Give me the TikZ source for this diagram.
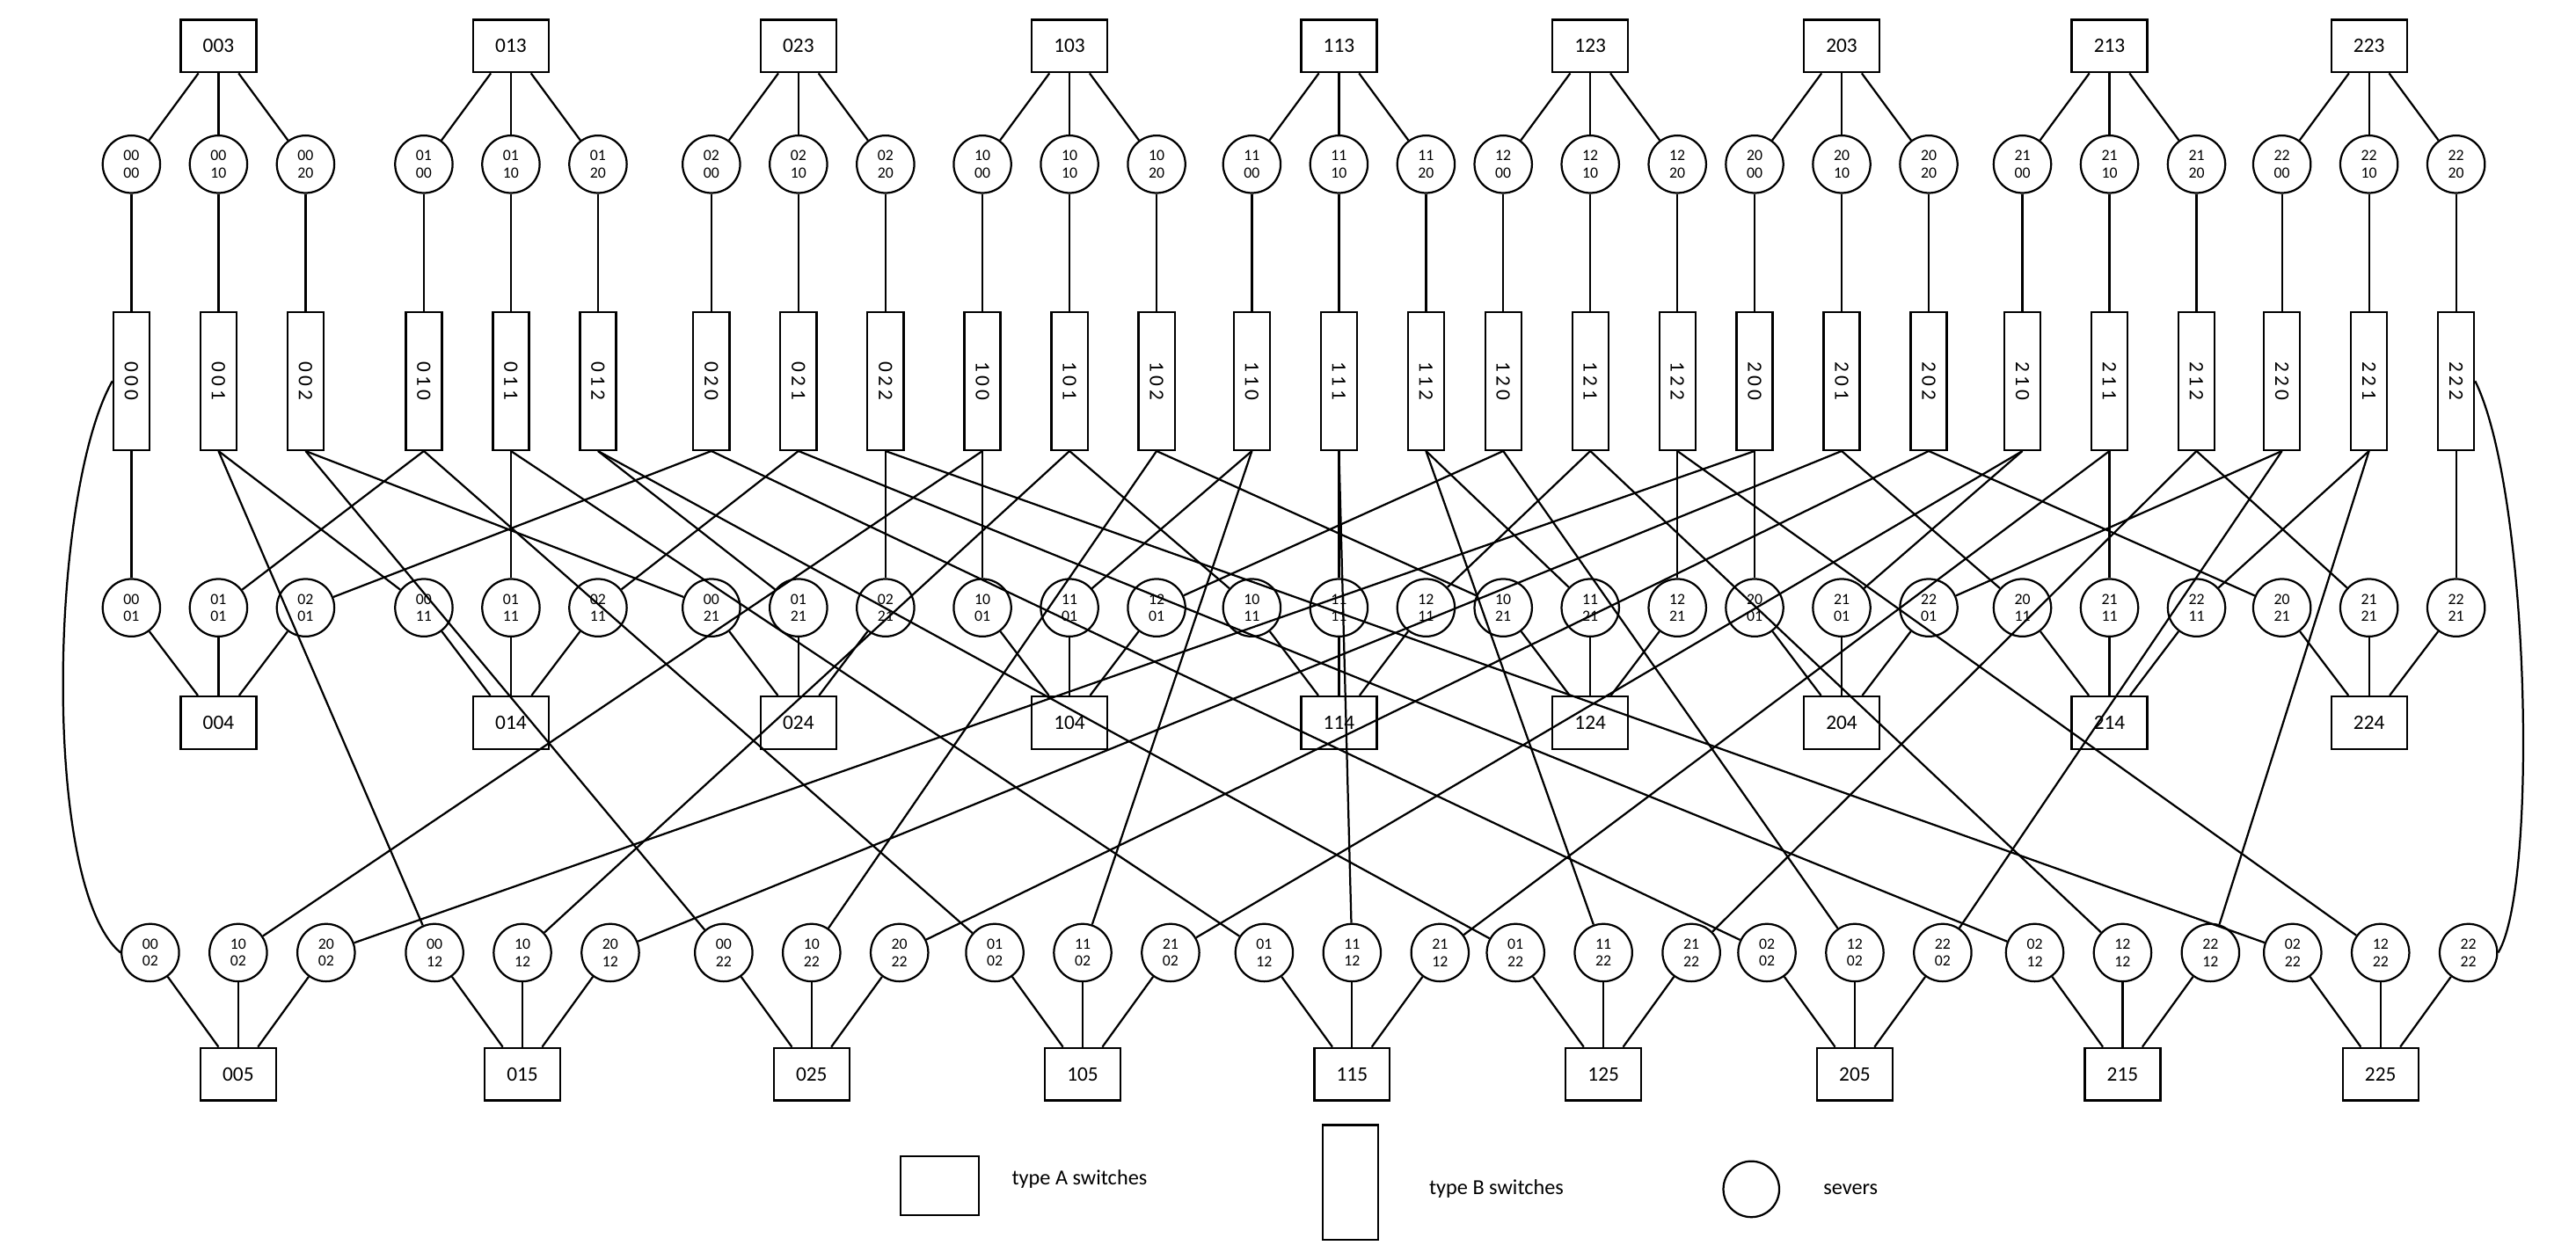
\documentclass[tikz,border=0pt]{standalone}
\usepackage{fontspec}
\setmainfont{Carlito}
\begin{document}
\begin{tikzpicture}[x=1pt,y=-1pt,line width=1.2pt,
 swA/.style={draw,rectangle,minimum width=46,minimum height=32,inner sep=0pt,font=\fontsize{12.5}{13}\selectfont},
 swB/.style={draw,rectangle,minimum width=22,minimum height=84,inner sep=0pt,font=\fontsize{12.5}{13}\selectfont},
 srv/.style={draw,circle,minimum size=35,inner sep=0pt,align=center,font=\fontsize{9.5}{10.5}\selectfont}]
\useasboundingbox (0,0) rectangle (1568,766.6);
\def\GX{{133,311,486,651,815,968,1121,1284,1442}}
\def\BX{{145,318,494,659,823,976,1129,1292,1449}}
\foreach \a in {0,1,2}{\foreach \b in {0,1,2}{
 \pgfmathtruncatemacro\g{3*\a+\b}
 \pgfmathsetmacro\X{\GX[\g]}
 \pgfmathsetmacro\Y{\BX[\g]}
 \node[swA] (A\a\b3) at (\X,28) {\a\b3};
 \node[swA] (A\a\b4) at (\X,440) {\a\b4};
 \node[swA] (A\a\b5) at (\Y,654) {\a\b5};
 \foreach \c in {0,1,2}{
   \pgfmathsetmacro\x{\X+(\c-1)*53}
   \pgfmathsetmacro\z{\Y+(\c-1)*53.5}
   \node[srv] (S\a\b\c0) at (\x,100) {\a\b\\\c0};
   \node[swB] (B\a\b\c) at (\x,232) {\rotatebox{-90}{\a\,\b\,\c}};
   \node[srv] (S\a\c\b1) at (\x,370) {\a\c\\\b1};
   \node[srv] (S\c\a\b2) at (\z,580) {\c\a\\\b2};
 }
}}
\foreach \a in {0,1,2}{\foreach \b in {0,1,2}{\foreach \c in {0,1,2}{
 \draw (A\a\b3) -- (S\a\b\c0);
 \draw (S\a\b\c0) -- (B\a\b\c.north);
 \draw (B\a\b\c.south) -- (S\a\b\c1);
 \draw (A\a\b4) -- (S\a\c\b1);
 \draw (A\a\b5) -- (S\c\a\b2);
}}}
\foreach \a/\b/\c in {0/0/1,0/0/2,0/1/0,0/1/1,0/1/2,0/2/0,0/2/1,0/2/2,1/0/0,1/0/1,1/0/2,1/1/0,1/1/1,1/1/2,1/2/0,1/2/1,1/2/2,2/0/0,2/0/1,2/0/2,2/1/0,2/1/1,2/1/2,2/2/0,2/2/1}
 \draw (B\a\b\c.south) -- (S\a\b\c2);
\draw (B000.west) .. controls (30,300) and (25,540) .. (S0002.west);
\draw (B222.east) .. controls (1540,300) and (1545,540) .. (S2222.east);
% legend
\node[draw,minimum width=48,minimum height=36,inner sep=0pt] (LA) at (572,722) {};
\node[anchor=west,font=\fontsize{13}{14}\selectfont] (LAt) at (612,718) {type A switches};
\node[draw,minimum width=34,minimum height=70,inner sep=0pt] (LB) at (822,720) {};
\node[anchor=west,font=\fontsize{13}{14}\selectfont] (LBt) at (866,724) {type B switches};
\node[draw,circle,minimum size=34,inner sep=0pt] (LS) at (1066,724) {};
\node[anchor=west,font=\fontsize{13}{14}\selectfont] (LSt) at (1106,724) {severs};
\end{tikzpicture}
\end{document}
